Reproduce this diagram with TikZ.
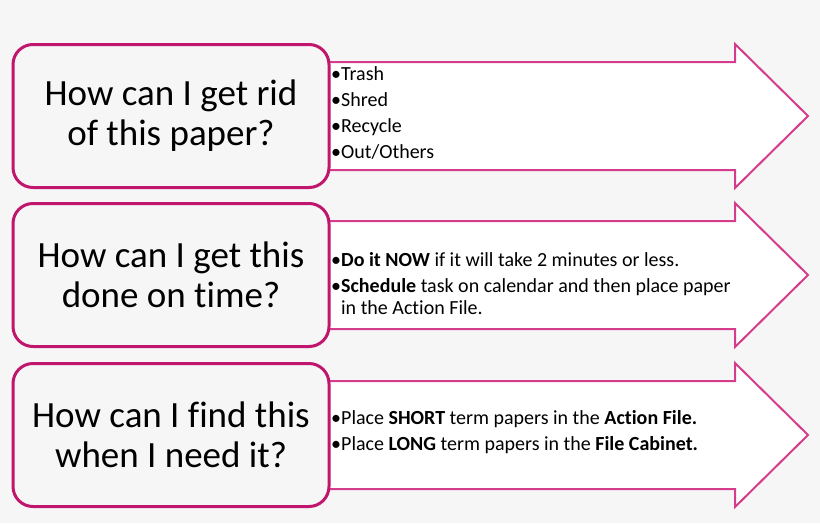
\documentclass[tikz,border=0pt]{standalone}
\usepackage{fontspec}
\setmainfont{Carlito}[Ligatures=NoCommon]
\usepackage{tikz}
\definecolor{boxpink}{RGB}{192,22,110}
\definecolor{arrowpink}{RGB}{214,60,140}
\definecolor{bggray}{RGB}{246,246,246}

\begin{document}
\begin{tikzpicture}
        [x=1pt,y=-1pt,
        question/.style={draw=boxpink,line width=3pt,rounded corners=20pt,fill=bggray,
          minimum width=316pt,minimum height=143pt,align=center,font=\fontsize{37}{40}\selectfont},
        bullets/.style={anchor=base west,align=left,inner sep=0pt,font=\fontsize{20}{22}\selectfont},
        arrowline/.style={draw=arrowpink,line width=2pt,fill=white}]
        \useasboundingbox[fill=bggray] (0,0) rectangle (820,523);

        % arrows behind the question boxes
        \foreach \y in {116,275,435}
            \draw[arrowline] (320,\y-54) -- (735,\y-54) -- (735,\y-72) -- (808,\y)
                -- (735,\y+72) -- (735,\y+54) -- (320,\y+54) -- cycle;

        \node[question] (rid) at (171,116) {How can I get rid\\of this paper?};
        \node[question] (time) at (171,275) {How can I get this\\done on time?};
        \node[question] (find) at (171,435) {How can I find this\\when I need it?};

        % lists, placed by the baseline of their last line
        \node[bullets] (ridlist) at (331,158) {•Trash\\[4pt]•Shred\\[4pt]•Recycle\\[4pt]•Out/Others};
        \node[bullets] (timelist) at (331,314) {•\textbf{Do it NOW} if it will take 2 minutes or less.\\[4pt]%
            •\textbf{Schedule} task on calendar and then place paper\\\phantom{•}in the Action File.};
        \node[bullets] (findlist) at (331,450) {•Place \textbf{SHORT} term papers in the \textbf{Action File.}\\[4pt]%
            •Place \textbf{LONG} term papers in the \textbf{File Cabinet.}};
    
    \end{tikzpicture}
\end{document}
